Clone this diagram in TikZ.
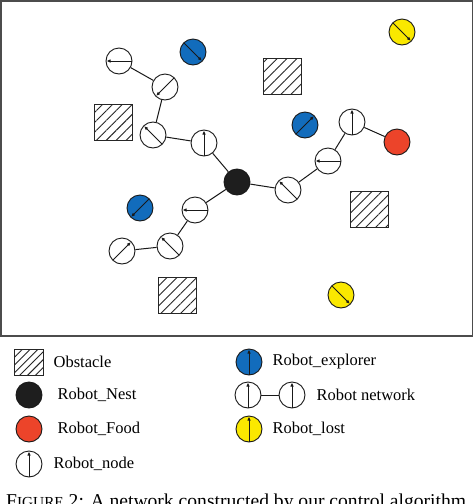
\documentclass[tikz,border=0pt]{standalone}
\usepackage{fontspec}
\setmainfont{Liberation Serif}
\usepackage{tikz}
\usetikzlibrary{arrows.meta,patterns.meta,positioning}
\definecolor{explorerblue}{RGB}{18,108,188}
\definecolor{foodred}{RGB}{236,68,42}
\definecolor{lostyellow}{RGB}{250,232,0}
\definecolor{nestblack}{RGB}{30,30,30}
\tikzset{
robot/.style={circle,draw=black!90,line width=0.9pt,minimum size=26pt,inner sep=0pt,fill=white},
obstacle/.style={rectangle,draw=black!85,line width=1pt,minimum width=38pt,minimum height=36pt,inner sep=0pt,
  pattern={Lines[angle=45,distance=7pt,line width=0.9pt]},pattern color=black!85},
link/.style={black!90,line width=1pt},
heading/.style={-{Latex[length=4pt,width=3.5pt]},line width=0.9pt,black!90},
legtext/.style={font=\fontsize{16.5}{18}\selectfont,inner sep=0pt}
}
\newcommand\robotdir[2]{\draw[heading] (#1.center) ++(#2+180:12.5) -- ++(#2:25);}

\begin{document}
\begin{tikzpicture}[x=1pt,y=1pt]
\useasboundingbox (0,0) rectangle (474,-504);
\clip (0,0) rectangle (474,-504);
\fill[white] (0,0) rectangle (474,-504);
\draw[black!70,line width=1.6pt] (1,-1) rectangle (472.5,-336);

\node[obstacle] (obsA) at (113,-122) {};
\node[obstacle] (obsB) at (282.5,-76.5) {};
\node[obstacle] (obsC) at (177.5,-295) {};
\node[obstacle] (obsD) at (369.5,-209) {};

\node[robot,fill=nestblack] (nest) at (237,-182) {};
\node[robot,fill=foodred] (food) at (397,-142) {};

\node[robot] (nA) at (119,-61) {};
\node[robot] (nB) at (165,-87) {};
\node[robot] (nC) at (153,-135) {};
\node[robot] (nD) at (204,-143) {};
\node[robot] (nH) at (195,-210) {};
\node[robot] (nI) at (170,-246) {};
\node[robot] (nJ) at (122,-251) {};
\node[robot] (nG) at (288,-190) {};
\node[robot] (nF) at (328,-161) {};
\node[robot] (nE) at (352,-122) {};

\node[robot,fill=explorerblue] (expA) at (193,-52) {};
\node[robot,fill=explorerblue] (expB) at (305,-125) {};
\node[robot,fill=explorerblue] (expC) at (140,-208) {};
\node[robot,fill=lostyellow] (lostA) at (402,-32) {};
\node[robot,fill=lostyellow] (lostB) at (341,-295) {};

\draw[link] (nA) -- (nB);
\draw[link] (nB) -- (nC);
\draw[link] (nC) -- (nD);
\draw[link] (nD) -- (nest);
\draw[link] (nest) -- (nH);
\draw[link] (nH) -- (nI);
\draw[link] (nI) -- (nJ);
\draw[link] (nest) -- (nG);
\draw[link] (nG) -- (nF);
\draw[link] (nF) -- (nE);
\draw[link] (nE) -- (food);

\robotdir{nA}{180}
\robotdir{nB}{225}
\robotdir{nC}{135}
\robotdir{nD}{90}
\robotdir{nH}{180}
\robotdir{nI}{135}
\robotdir{nJ}{45}
\robotdir{nG}{135}
\robotdir{nF}{180}
\robotdir{nE}{90}
\robotdir{expA}{-45}
\robotdir{expB}{45}
\robotdir{expC}{225}
\robotdir{lostA}{-45}
\robotdir{lostB}{-45}

\node[obstacle,minimum width=29pt,minimum height=26pt,pattern={Lines[angle=45,distance=5.5pt,line width=0.9pt]}] (lgobst) at (28.5,-362) {};
\node[robot,fill=nestblack] (lgnest) at (29,-395) {};
\node[robot,fill=foodred] (lgfood) at (29,-429) {};
\node[robot] (lgnode) at (29,-464) {};
\node[robot,fill=explorerblue] (lgexpl) at (249,-362) {};
\node[robot] (lgnetA) at (248,-395) {};
\node[robot] (lgnetB) at (292,-395) {};
\node[robot,fill=lostyellow] (lglost) at (249,-429) {};
\draw[link] (lgnetA) -- (lgnetB);
\robotdir{lgnode}{90}
\robotdir{lgexpl}{90}
\robotdir{lgnetA}{90}
\robotdir{lgnetB}{90}
\robotdir{lglost}{90}

\node[legtext,right=10pt of lgobst] (txobst) {Obstacle};
\node[legtext,right=15pt of lgnest] (txnest) {Robot\_Nest};
\node[legtext,right=15pt of lgfood] (txfood) {Robot\_Food};
\node[legtext,right=11pt of lgnode] (txnode) {Robot\_node};
\node[legtext,right=10pt of lgexpl] (txexpl) {Robot\_explorer};
\node[legtext,right=11pt of lgnetB] (txnet) {Robot network};
\node[legtext,right=10pt of lglost] (txlost) {Robot\_lost};

\node[inner sep=0pt,anchor=base west,font=\fontsize{19.6}{21}\selectfont] (caption) at (6,-507.5) {F{\fontsize{15.3}{17}\selectfont IGURE} 2: A network constructed by our control algorithm};
\end{tikzpicture}
\end{document}
